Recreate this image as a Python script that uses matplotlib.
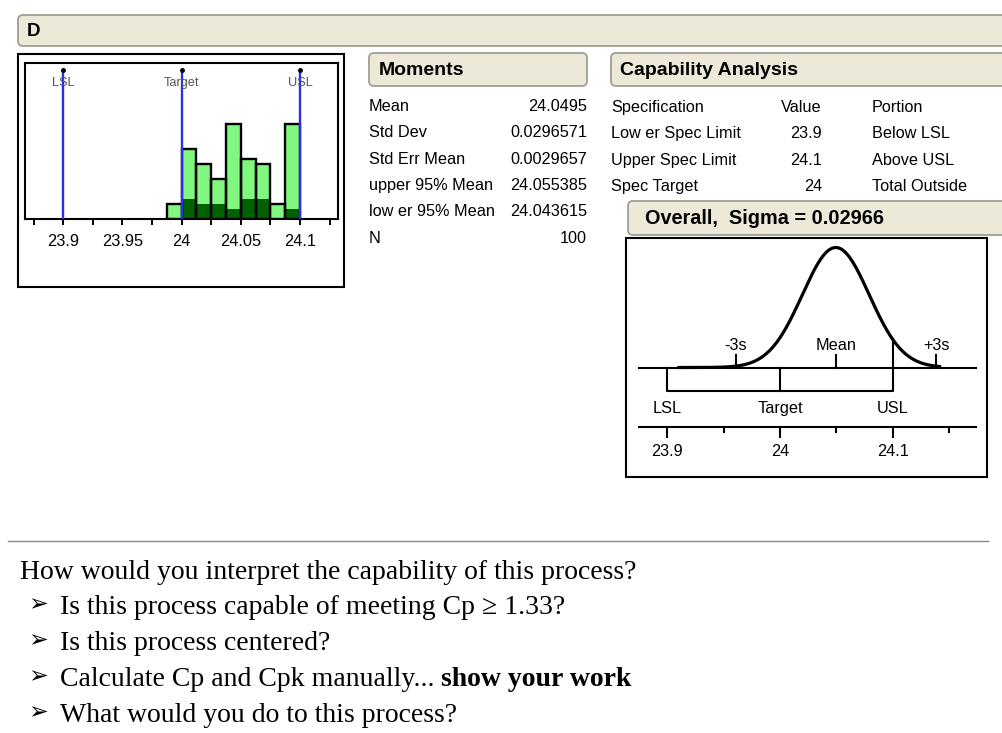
import matplotlib
matplotlib.use('Agg')
import matplotlib.pyplot as plt
import numpy as np
from matplotlib.patches import FancyBboxPatch, Rectangle

# ---------------- data ----------------
bin_left = [23.9875, 24.0, 24.0125, 24.025, 24.0375, 24.05, 24.0625, 24.075, 24.0875]
bin_width = 0.0125
counts = [3, 14, 11, 8, 19, 12, 11, 3, 19]
sub_counts = [0, 4, 3, 3, 2, 4, 4, 0, 2]
hist_ticks = [23.875, 23.9, 23.925, 23.95, 23.975, 24.0, 24.025, 24.05, 24.075, 24.1, 24.125]
hist_label_ticks = [23.9, 23.95, 24.0, 24.05, 24.1]
hist_tick_labels = ['23.9', '23.95', '24', '24.05', '24.1']
spec_names = ['LSL', 'Target', 'USL']
spec_values = [23.9, 24.0, 24.1]
mean = 24.0495
sigma = 0.02966
moment_names = ['Mean', 'Std Dev', 'Std Err Mean', 'upper 95% Mean', 'low er 95% Mean', 'N']
moment_values = ['24.0495', '0.0296571', '0.0029657', '24.055385', '24.043615', '100']
cap_spec = ['Specification', 'Low er Spec Limit', 'Upper Spec Limit', 'Spec Target']
cap_value = ['Value', '23.9', '24.1', '24']
cap_portion = ['Portion', 'Below LSL', 'Above USL', 'Total Outside']
norm_major_ticks = [23.9, 24.0, 24.1]
norm_major_labels = ['23.9', '24', '24.1']
norm_minor_ticks = [23.95, 24.05, 24.15]
sigma_marks = [-3, 0, 3]
sigma_labels = ['-3s', 'Mean', '+3s']
curve_range = [23.909, 24.143]
question = 'How would you interpret the capability of this process?'
bullets = ['Is this process capable of meeting Cp \u2265 1.33?',
           'Is this process centered?',
           'Calculate Cp and Cpk manually...',
           'What would you do to this process?']
bold_tail = 'show your work'

# ---------------- figure ----------------
W, H = 1003, 733
fig = plt.figure(figsize=(W / 100, H / 100), dpi=100)
fig.patch.set_facecolor('white')
bg = fig.add_axes([0, 0, 1, 1])
bg.set_xlim(0, W)
bg.set_ylim(H, 0)
bg.axis('off')

SANS = ['Liberation Sans', 'DejaVu Sans']
SERIF = ['Liberation Serif', 'DejaVu Serif']
BEIGE = '#ECE9D8'
BORDER = '#A09E94'
LW = 1.5
TFS = 11.7


def header(x0, y0, x1, y1, text, tx, ty, fs=14):
    p = FancyBboxPatch((x0, y0), x1 - x0, y1 - y0,
                       boxstyle='round,pad=0,rounding_size=5',
                       fc=BEIGE, ec=BORDER, lw=1.3, zorder=1)
    bg.add_patch(p)
    bg.text(tx, ty, text, fontsize=fs, fontweight='bold', family=SANS,
            ha='left', va='center', color='black', zorder=2)


def pax(x0, y0, x1, y1):
    return fig.add_axes([x0 / W, 1 - y1 / H, (x1 - x0) / W, (y1 - y0) / H])


# top header
header(18, 15, 1015, 46, 'D', 27, 31.5, fs=13.5)

# ---------------- histogram ----------------
bg.add_patch(Rectangle((18.3, 54), 325.5, 232.7, fill=False, ec='black', lw=LW, zorder=2))
hx = pax(25, 62.7, 338.3, 219.3)
hx.set_xlim(23.8676, 24.1324)
hx.set_ylim(0, 31.3)
hx.bar(bin_left, counts, width=bin_width, align='edge', color='#80F880', lw=0, zorder=2)
hx.bar(bin_left, sub_counts, width=bin_width, align='edge', color='#006100', lw=0, zorder=3)
hx.bar(bin_left, counts, width=bin_width, align='edge', fill=False, ec='black', lw=1.7, zorder=4)
for name, v in zip(spec_names, spec_values):
    hx.plot([v, v], [0, 29.9], color='#2E2EE6', lw=1.7, zorder=5, solid_capstyle='butt')
    hx.plot([v], [29.9], 'o', color='black', ms=2.5, zorder=6)
    hx.text(v, 27.2, name, fontsize=9.2, family=SANS, color='#555555',
            ha='center', va='center', zorder=7)
for s in hx.spines.values():
    s.set_linewidth(LW)
hx.set_xticks(hist_ticks)
hx.set_xticklabels([''] * len(hist_ticks))
hx.tick_params(axis='x', direction='out', length=4.3, width=1.4, color='black')
hx.set_yticks([])
for v, lab in zip(hist_label_ticks, hist_tick_labels):
    hx.annotate(lab, xy=(v, 0), xycoords='data', xytext=(0, -26.5 * 0.72),
                textcoords='offset points', fontsize=11.8, family=SANS,
                ha='center', va='baseline', annotation_clip=False)

# ---------------- Moments ----------------
header(369, 53, 587, 86, 'Moments', 379, 70.5)
for i, (n, v) in enumerate(zip(moment_names, moment_values)):
    y = 105 + 26.4 * i + 5.8
    bg.text(369, y, n, fontsize=TFS, family=SANS, ha='left', va='baseline')
    bg.text(587, y, v, fontsize=TFS, family=SANS, ha='right', va='baseline')

# ---------------- Capability ----------------
header(611, 53, 1015, 86, 'Capability Analysis', 620, 70.5)
for i, (a, b, c) in enumerate(zip(cap_spec, cap_value, cap_portion)):
    y = 106 + 26.5 * i + 5.8
    bg.text(611, y, a, fontsize=TFS, family=SANS, ha='left', va='baseline')
    bg.text(822, y, b, fontsize=TFS, family=SANS, ha='right', va='baseline')
    bg.text(872, y, c, fontsize=TFS, family=SANS, ha='left', va='baseline')
header(628, 201, 1015, 235, 'Overall,  Sigma = 0.02966', 645, 219, fs=14.3)

# ---------------- normal panel ----------------
bg.add_patch(Rectangle((626.5, 237.5), 361, 239.2, fill=False, ec='black', lw=LW, zorder=2))
nx = pax(638, 240, 977.2, 470)
nx.set_xlim(23.874, 24.175)
nx.set_ylim(-102.5, 127.5)
nx.axis('off')
nx.patch.set_alpha(0)
xs = np.linspace(curve_range[0], curve_range[1], 400)
pdf_scale = 120.0


def curve(x):
    return pdf_scale * np.exp(-0.5 * ((np.asarray(x) - mean) / sigma) ** 2)


nx.axhline(0, color='black', lw=LW)
nx.plot(xs, curve(xs), color='black', lw=2.3, solid_capstyle='butt')
for k, lab in zip(sigma_marks, sigma_labels):
    xv = mean + k * sigma
    nx.plot([xv, xv], [0, 12.5], color='black', lw=LW)
    nx.text(xv, 23.5 - 5.8, lab, fontsize=TFS, family=SANS, ha='center', va='baseline')
# spec bracket
brk = -23.5
nx.plot([spec_values[0], spec_values[0], spec_values[2], spec_values[2]],
        [0, brk, brk, float(curve(spec_values[2]))], color='black', lw=LW)
nx.plot([spec_values[1], spec_values[1]], [0, brk], color='black', lw=LW)
for name, v in zip(spec_names, spec_values):
    nx.text(v, -39.5 - 5.8, name, fontsize=TFS, family=SANS, ha='center', va='baseline')
# lower axis
nx.axhline(-59.8, color='black', lw=LW)
for v, lab in zip(norm_major_ticks, norm_major_labels):
    nx.plot([v, v], [-59.8, -69.8], color='black', lw=LW)
    nx.text(v, -82.2 - 5.8, lab, fontsize=TFS, family=SANS, ha='center', va='baseline')
for v in norm_minor_ticks:
    nx.plot([v, v], [-59.8, -64.8], color='black', lw=LW)

# ---------------- question text ----------------
bg.plot([8, 988], [541, 541], color='#888888', lw=1.0)
FS = 20
off = 0.331 * FS / 0.72
bg.text(20, 570 + off, question, fontsize=FS, family=SERIF, ha='left', va='baseline')
texts = []
for i, b in enumerate(bullets):
    y = 605 + 36 * i
    bg.text(28, y + 6, '\u27A2', fontsize=17, family=['DejaVu Sans'], ha='left', va='baseline')
    t = bg.text(60, y + off, b, fontsize=FS, family=SERIF, ha='left', va='baseline')
    texts.append(t)
fig.canvas.draw()
bb = texts[2].get_window_extent()
bg.text(bb.x1 + 7, 605 + 72 + off, bold_tail, fontsize=FS, family=SERIF,
        fontweight='bold', ha='left', va='baseline')

fig.savefig('out.png', dpi=100, facecolor='white')
